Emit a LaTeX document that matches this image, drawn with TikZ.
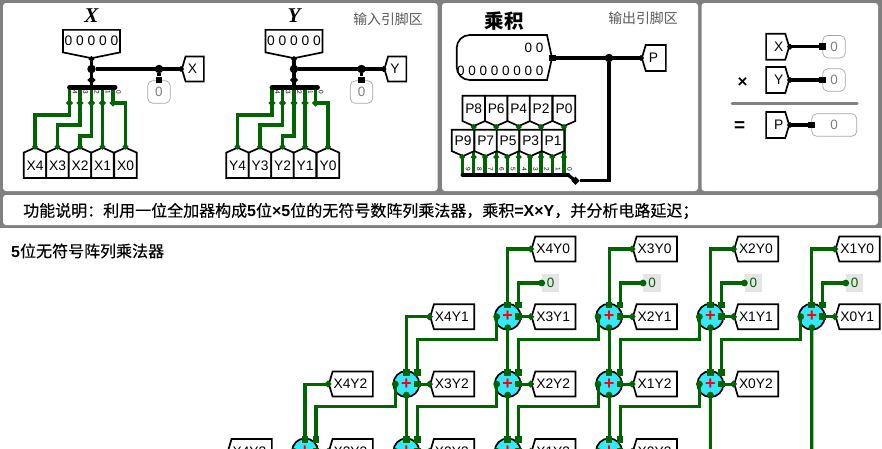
\documentclass[tikz,border=0pt]{standalone}
\usepackage{fontspec}
\setmainfont{Liberation Sans}
\newfontfamily\cjk{Noto Sans CJK SC}
\newfontfamily\cjkb[FakeBold=0.35]{Noto Sans CJK SC}
\newfontfamily\headfont{Liberation Serif}
\usepackage{tikz}
\usetikzlibrary{shapes.symbols,shapes.geometric}
\definecolor{framegray}{RGB}{128,128,128}
\definecolor{sigcol}{RGB}{0,100,0}
\definecolor{addcol}{RGB}{51,232,255}
\newcommand{\fs}[1]{\fontsize{#1}{#1}\selectfont}
\newcommand{\cncolon}{\char"FF1A\relax}
\newcommand{\cncomma}{\char"FF0C\relax}
\newcommand{\cnsemi}{\char"FF1B\relax}
\tikzset{
  panel/.style={fill=white, rounded corners=3pt},
  tun/.style={signal, draw, fill=white, line width=1.7pt, inner sep=0pt, font=\fs{13.8}},
  tunl/.style={tun, signal to=west, signal pointer angle=147, minimum width=44pt, minimum height=25pt, execute at begin node={\hspace*{-4.5pt}}},
  tunr/.style={tun, signal to=east, signal pointer angle=147, minimum width=23pt, minimum height=26pt, execute at begin node={\hspace*{6pt}}},
  tunu/.style={tun, signal to=north, signal pointer angle=132, minimum width=22.6pt, minimum height=29pt},
  tund/.style={tun, signal to=south, signal pointer angle=132, minimum width=22.6pt, minimum height=29pt},
  inpin/.style={tun, signal to=south, signal pointer angle=157, minimum width=57pt, minimum height=28pt},
  probe/.style={draw=gray!70, rounded corners=5pt, line width=.7pt, fill=white, text=gray, inner sep=0pt, font=\fs{13.5}},
  const/.style={fill=black!10, text=sigcol, minimum size=17.5pt, inner sep=0pt, font=\fs{13.5}},
  sig/.style={draw=sigcol, line width=3.1pt},
  bus/.style={draw=black, line width=3.2pt},
  bar/.style={draw=black, line width=4.8pt, line cap=round},
  jdot/.style={circle, fill=black, inner sep=0pt, minimum size=8.5pt},
  bdia/.style={diamond, fill=black, inner sep=0pt, minimum size=8.5pt},
  gdot/.style={circle, fill=sigcol, inner sep=0pt, minimum size=6.8pt},
  gdia/.style={diamond, fill=sigcol, inner sep=0pt, minimum size=7.5pt},
  gsq/.style={rectangle, fill=sigcol, inner sep=0pt, minimum size=6.8pt},
  bsq/.style={rectangle, fill=black, inner sep=0pt, minimum size=6.8pt},
  adder/.style={circle, draw, fill=addcol, line width=1.7pt, inner sep=0pt, minimum size=26pt, text=red, font=\fs{18}\bfseries},
  bitno/.style={rotate=-90, inner sep=0pt, font=\fs{6.5}},
  x=1pt, y=-1pt
}
\begin{document}
\begin{tikzpicture}
\path[use as bounding box, clip] (0,0) rectangle (882,448);
\fill[white] (0,0) rectangle (882,448);
\fill[framegray] (0,0) rectangle (882,228);
\fill[panel] (3,3) rectangle (437.5,191);
\fill[panel] (442,3) rectangle (698,191);
\fill[panel] (701.5,3) rectangle (878,191);
\fill[panel] (3,195) rectangle (878,225);

% input pins
\foreach \nm/\off in {X/0,Y/202.5}{
  \begin{scope}[xshift=\off pt]
  \node[font=\headfont\bfseries\itshape\fs{21}] (head\nm) at (91.5,16) {\nm};
  \node[inpin, anchor=north] (pin\nm) at (91.5,29) {0 0 0 0 0};
  \node[jdot] (j\nm) at (91.5,69) {};
  \node[jdot] (jp\nm) at (159,69) {};
  \node[bdia] (split\nm) at (91.5,80) {};
  \node[tunl, minimum width=22pt, anchor=west] (tun\nm) at (181,69) {\nm};
  \node[probe, minimum width=22.5pt, minimum height=22.5pt] (pr\nm) at (159,92) {\raisebox{-2pt}{0}};
  \node[bsq] (sq\nm) at (159,80) {};
  \coordinate (barl\nm) at (69.5,87.3);
  \coordinate (barr\nm) at (113,87.3);
  \coordinate (barm\nm) at (91.5,87.3);
  \draw[bus] (pin\nm.south) -- (barm\nm);
  \draw[bus] (j\nm) -- (tun\nm.west);
  \draw[bus] (jp\nm) -- (sq\nm);
  \node[bdia, minimum size=6.5pt] at (pin\nm.south) {};
  \node[bdia, minimum size=6.5pt] at (tun\nm.west) {};
  \foreach \i/\dx/\tx/\dv in {4/69.5/35/12,3/80/57.5/22,2/91.5/80/33,1/102.5/102.5/33,0/113/125.5/0}{
    \coordinate (b\nm\i) at (\dx,87.3);
    \node[gdia] (d\nm\i) at (\dx,103) {};
    \node[tunu, anchor=north] (t\nm\i) at (\tx,146.7) {\nm\i};
    \draw[sig] (b\nm\i) -- (d\nm\i.center) -- ++(0,\dv) -| (t\nm\i.north);
    \node[gdia, minimum size=6.5pt] at (t\nm\i.north) {};
    \node[bitno] (n\nm\i) at (\dx+5.5,92.7) {\i};
  }
  \draw[bar] (barl\nm) -- ([xshift=2pt]barr\nm);
  \end{scope}
}
\node[text=black!65, font=\cjk\fs{13.9}] (intitle) at (388,19) {输入引脚区};

% output pins
\node[font=\cjk\bfseries\fs{19.5}] (outhead) at (504,21.5) {乘积};
\node[text=black!65, font=\cjk\fs{13.9}] (outtitle) at (643,18) {输出引脚区};
\draw[line width=1.7pt, fill=white] (547,35) -- (552,58) -- (547,80) [rounded corners=13pt] -- (456.7,80) -- (456.7,35) [sharp corners] -- cycle;
\node[font=\fs{13.5}, anchor=east] (outhi) at (547,47.5) {0 0};
\node[font=\fs{13.5}, anchor=east] (outlo) at (547,70.5) {0 0 0 0 0 0 0 0};
\node[bsq] (outsq) at (552.7,58) {};
\node[jdot] (outj) at (609,58) {};
\node[bdia] (bend) at (575.5,180.8) {};
\node[tunl, minimum width=24pt, minimum height=26pt, anchor=west] (tunP) at (641,58) {P};
\coordinate (barbl) at (463,175);
\coordinate (barbr) at (568,175);
\draw[bus] (outsq) -- (tunP.west);
\draw[bus] (outj) |- (bend);
\draw[bus] (barbr) -- (bend.center);
\node[bdia, minimum size=6.5pt] at (tunP.west) {};
% the wires run behind the lower row
\foreach \i/\nm/\tx in {8/P8/473.7,6/P6/496.2,4/P4/518.7,2/P2/541,0/P0/564}{
  \coordinate (bp\i) at (\tx,175);
  \coordinate (tp\i) at (\tx,127);
  \draw[sig] (bp\i) -- (tp\i);
}
\foreach \i/\nm/\tx in {9/P9/462.3,7/P7/485,5/P5/507.3,3/P3/530,1/P1/552.3}{
  \coordinate (bp\i) at (\tx,175);
  \coordinate (tp\i) at (\tx,157);
  \draw[sig] (bp\i) -- (tp\i);
  \node[tund, anchor=south, minimum height=25pt] (t\nm) at (\tx+.7,157) {\nm};
}
\foreach \i/\nm/\tx in {8/P8/473.7,6/P6/496.2,4/P4/518.7,2/P2/541,0/P0/564}{
  \node[tund, anchor=south] (t\nm) at (\tx,127) {\nm};
  \node[gdia, minimum size=6.5pt] at (tp\i) {};
  \node[gdia, minimum size=6.5pt] at (\tx,157) {};
}
\foreach \i/\tx in {9/462.3,7/485,5/507.3,3/530,1/552.3}{
  \node[gdia, minimum size=6.5pt] at (tp\i) {};
}
\foreach \i/\tx in {9/462.3,8/473.7,7/485,6/496.2,5/507.3,4/518.7,3/530,2/541,1/552.3,0/564}{
  \node[bitno] (pn\i) at (\tx+5.7,169) {\i};
}
\draw[bar] (barbl) -- (barbr);

% result panel
\foreach \nm/\py/\pw/\px in {X/46.7/22.5/834,Y/80/22.5/834,P/125/45/834.2}{
  \node[tunr, anchor=east] (show\nm) at (790,\py) {\nm};
  \node[probe, minimum width=\pw pt, minimum height=22.5pt] (val\nm) at (\px,\py) {\raisebox{-2.5pt}{0}};
  \node[bsq] (vs\nm) at ([xshift=-\pw/2 pt]val\nm.center) {};
  \draw[bus] (show\nm.east) -- (vs\nm);
  \node[bdia, minimum size=6.5pt] at (show\nm.east) {};
}
\node[font=\bfseries\fs{17}] (times) at (742.7,83) {×};
\node[font=\bfseries\fs{19}] (equal) at (739.7,127) {=};
\coordinate (rulel) at (732,103);
\coordinate (ruler) at (857,103);
\draw[framegray, line width=3pt, line cap=round] (rulel) -- (ruler);

% description
\node[anchor=west, inner sep=0pt, font=\cjkb\fs{16}] (desc) at (23,211)
  {功能说明\cncolon 利用一位全加器构成{\rmfamily\bfseries 5}位{\rmfamily\bfseries ×5}位的无符号数阵列乘法器\cncomma 乘积{\rmfamily\bfseries =X×Y}\cncomma 并分析电路延迟\cnsemi};
\node[anchor=west, inner sep=0pt, font=\cjkb\fs{16}] (title) at (11,251)
  {{\rmfamily\bfseries 5}位无符号阵列乘法器};

% adders
\foreach \r/\c/\lab in {1/2/X3Y1,1/3/X2Y1,1/4/X1Y1,1/5/X0Y1,
                        2/1/X3Y2,2/2/X2Y2,2/3/X1Y2,2/4/X0Y2,
                        3/0/X3Y3,3/1/X2Y3,3/2/X1Y3,3/3/X0Y3}{
  \pgfmathsetmacro\ax{305+101.35*\c}
  \pgfmathsetmacro\ay{316.7+67.35*(\r-1)}
  \node[adder] (a\r\c) at (\ax,\ay) {+};
  \node[gsq] (a\r\c-a) at (\ax,\ay-11.7) {};
  \node[gsq] (a\r\c-b) at (\ax+11,\ay-11.7) {};
  \node[gsq] (a\r\c-c) at (\ax+11,\ay) {};
  \node[gdot] (a\r\c-o) at (\ax-11,\ay) {};
  \node[gdot] (a\r\c-s) at (\ax,\ay+11) {};
  \node[tunl, anchor=west] (t\r\c) at (\ax+23,\ay) {\lab};
  \draw[sig] (t\r\c.west) -- (a\r\c-c.center);
  \node[gdia] at (t\r\c.west) {};
}

% top row
\foreach \c/\lab in {2/X4Y0,3/X3Y0,4/X2Y0,5/X1Y0}{
  \pgfmathsetmacro\ax{305+101.35*\c}
  \node[tunl, anchor=west] (top\c) at (\ax+23,249) {\lab};
  \node[const, anchor=west] (zero\c) at (\ax+34,283) {0};
  \node[gdot] (zd\c) at (zero\c.west) {};
  \draw[sig] (top\c.west) -| (a1\c-a.center);
  \draw[sig] (zd\c.center) -| (a1\c-b.center);
  \node[gdia] at (top\c.west) {};
}

% carry in from the left
\foreach \r/\c/\lab in {2/1/X4Y1,3/0/X4Y2}{
  \pgfmathsetmacro\ax{305+101.35*\c}
  \pgfmathsetmacro\ay{316.7+67.35*(\r-2)}
  \node[tunl, anchor=west] (left\r) at (\ax+23,\ay) {\lab};
  \draw[sig] (left\r.west) -| (a\r\c-a.center);
  \node[gdia] at (left\r.west) {};
}
\node[tunl, anchor=west] (left4) at (227,451.4) {X4Y3};

% between the rows
\foreach \r/\c/\n/\d in {1/2/2/1,1/3/2/2,1/4/2/3,1/5/2/4,2/1/3/0,2/2/3/1,2/3/3/2,2/4/3/3}{
  \draw[sig] (a\r\c-o.center) -- ++(0,22.6) -| (a\n\d-b.center);
}
\foreach \r/\c/\n in {1/2/2,1/3/2,1/4/2,2/1/3,2/2/3,2/3/3}{
  \draw[sig] (a\r\c-s.center) -- (a\n\c-a.center);
}
\coordinate (endA) at (811.7,460);
\coordinate (endB) at (710.3,460);
\draw[sig] (a15-s.center) -- (endA);
\draw[sig] (a24-s.center) -- (endB);
\end{tikzpicture}
\end{document}
